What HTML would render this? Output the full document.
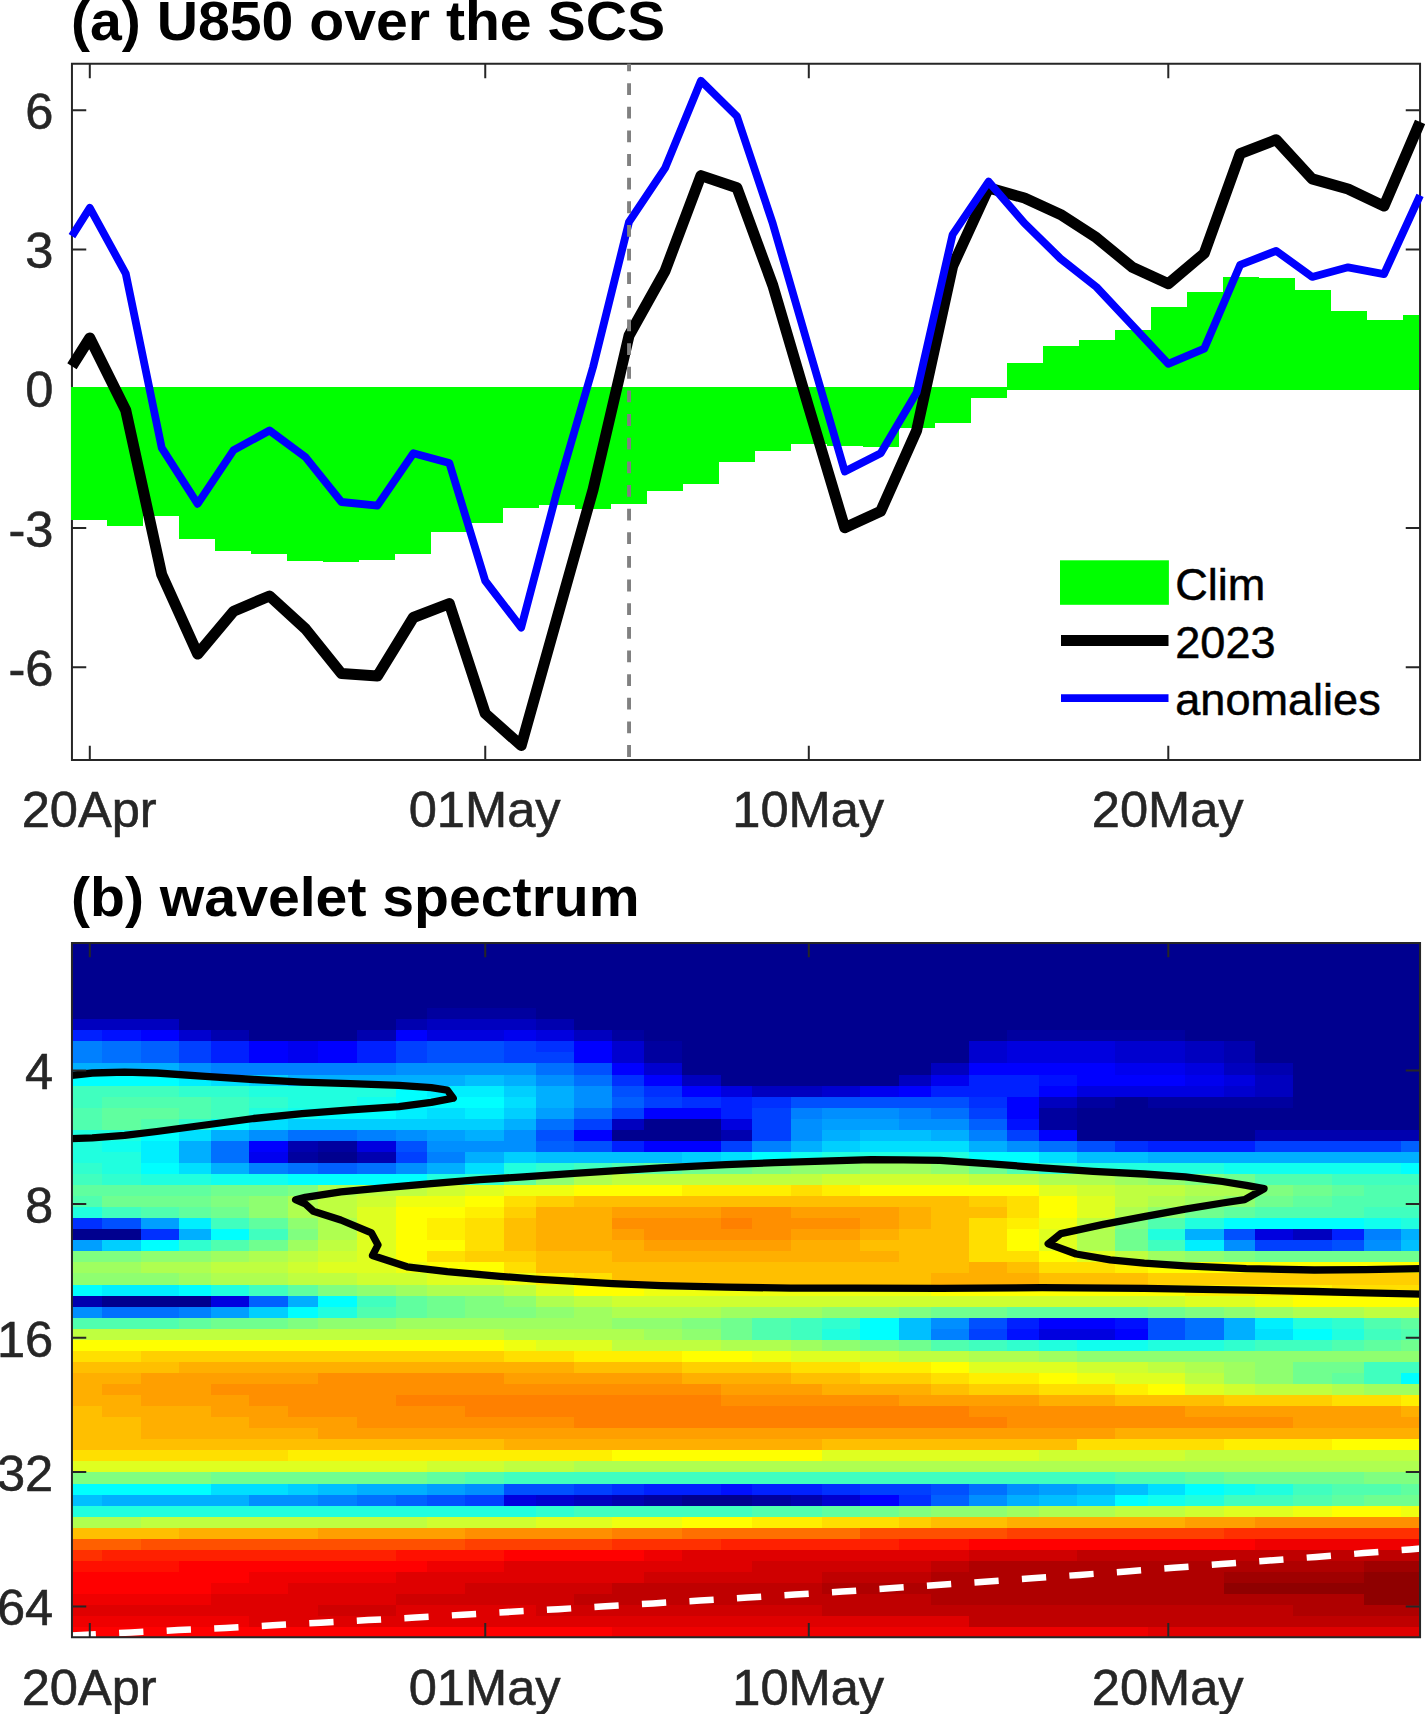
<!DOCTYPE html>
<html lang="en"><head><meta charset="utf-8"><title>U850 over the SCS and wavelet spectrum</title>
<style>html,body{margin:0;padding:0;background:#fff}svg{display:block}text{font-family:"Liberation Sans",Arial,Helvetica,sans-serif}.tk{font-size:49.15px;fill:#262626;stroke:#262626;stroke-width:.55px}.tt{font-size:56px;font-weight:bold;fill:#000}.lg{font-size:43.6px;fill:#000;stroke:#000;stroke-width:.5px}</style></head>
<body>
<svg width="1425" height="1714" viewBox="0 0 1425 1714">
<rect width="1425" height="1714" fill="#fff"/>
<defs><clipPath id="ca"><rect x="71.95" y="63.85" width="1348.1" height="696.15"/></clipPath><clipPath id="cb"><rect x="71.95" y="942.9" width="1348.1" height="694.3"/></clipPath></defs>
<text class="tt" transform="translate(71 40.4) scale(1.021 1)">(a) U850 over the SCS</text>
<path fill="none" stroke="#262626" stroke-width="2" d="M71.95 63.85H1420.05V760H71.95ZM89.8 760v-14.3M89.8 63.85v14.3M485.25 760v-14.3M485.25 63.85v14.3M808.8 760v-14.3M808.8 63.85v14.3M1168.3 760v-14.3M1168.3 63.85v14.3M71.95 110.24h14.3M1420.05 110.24h-14.3M71.95 249.47h14.3M1420.05 249.47h-14.3M71.95 388.7h14.3M1420.05 388.7h-14.3M71.95 527.93h14.3M1420.05 527.93h-14.3M71.95 667.16h14.3M1420.05 667.16h-14.3"/>
<path fill="#00ff00" shape-rendering="crispEdges" d="M70.75 387.3H106.8V519.7H70.75ZM106.5 387.3H142.8V526H106.5ZM142.5 387.3H178.8V516.4H142.5ZM178.5 387.3H214.8V539.2H178.5ZM214.5 387.3H250.8V550.5H214.5ZM250.5 387.3H286.8V554.3H250.5ZM286.5 387.3H322.8V560.9H286.5ZM322.5 387.3H358.8V561.7H322.5ZM358.5 387.3H394.8V560.1H358.5ZM394.5 387.3H430.8V554.3H394.5ZM430.5 387.3H466.8V532.1H430.5ZM466.5 387.3H502.8V522.7H466.5ZM502.5 387.3H538.8V508.3H502.5ZM538.5 387.3H574.8V505.1H538.5ZM574.5 387.3H610.8V508.9H574.5ZM610.5 387.3H646.8V504.3H610.5ZM646.5 387.3H682.8V490.7H646.5ZM682.5 387.3H718.8V483.6H682.5ZM718.5 387.3H754.8V461.7H718.5ZM754.5 387.3H790.8V451.3H754.5ZM790.5 387.3H826.8V444.2H790.5ZM826.5 387.3H862.8V445.6H826.5ZM862.5 387.3H898.8V446.9H862.5ZM898.5 387.3H934.8V428.4H898.5ZM934.5 387.3H970.8V423.4H934.5ZM970.5 387.3H1006.8V397.6H970.5ZM1006.5 362.7H1042.8V389.6H1006.5ZM1042.5 345.5H1078.8V389.6H1042.5ZM1078.5 339.9H1114.8V389.6H1078.5ZM1114.5 330H1150.8V389.6H1114.5ZM1150.5 307.2H1186.8V389.6H1150.5ZM1186.5 291.8H1222.8V389.6H1186.5ZM1222.5 277.4H1258.8V389.6H1222.5ZM1258.5 277.9H1294.8V389.6H1258.5ZM1294.5 289.5H1330.8V389.6H1294.5ZM1330.5 311H1366.8V389.6H1330.5ZM1366.5 319.8H1402.8V389.6H1366.5ZM1402.5 314.5H1419.45V389.6H1402.5Z"/>
<g fill="none" stroke-linejoin="round"><polyline stroke="#000" stroke-width="11" points="71.95,366.3 89.8,338 125.75,410.2 161.7,574.5 197.65,654.1 233.6,611.2 269.55,596 305.5,628.9 341.45,673.6 377.4,676.1 413.35,617.5 449.3,603.6 485.25,713.5 521.2,745.5 557.15,617.5 593.1,489.5 629.05,335.5 665,271.1 700.95,175.6 736.9,187.7 772.85,285.5 808.8,407.5 844.75,527.7 880.7,511.3 916.65,430.4 952.6,266.2 988.55,187.9 1024.5,198 1060.45,214.4 1096.4,237.7 1132.35,267.3 1168.3,283.7 1204.25,253.4 1240.2,153.6 1276.15,139.7 1312.1,178.9 1348.05,189 1384,206.1 1420.05,122"/><polyline stroke="#0000ff" stroke-width="7.8" points="71.95,236.1 89.8,207.9 125.75,273.6 161.7,447.8 197.65,503.8 233.6,450.2 269.55,430.5 305.5,457.1 341.45,502 377.4,505.6 413.35,453.3 449.3,462.9 485.25,580.9 521.2,627.6 557.15,491 593.1,367 629.05,221.8 665,168.2 700.95,80.8 736.9,116.2 772.85,223.8 808.8,348 844.75,471.4 880.7,453.2 916.65,392.5 952.6,234.6 988.55,181.6 1024.5,223.3 1060.45,258.6 1096.4,287 1132.35,325.4 1168.3,363.8 1204.25,348.6 1240.2,264.8 1276.15,250.9 1312.1,276.9 1348.05,267.3 1384,274.1 1420.05,195.3"/><line x1="629.05" x2="629.05" y1="63.85" y2="760" stroke="#808080" stroke-width="3.9" stroke-dasharray="11.8 11.84" stroke-dashoffset="4.33"/></g>
<text class="tk" text-anchor="end" transform="translate(53.4 128.94) scale(1.03 1)">6</text><text class="tk" text-anchor="end" transform="translate(53.4 268.17) scale(1.03 1)">3</text><text class="tk" text-anchor="end" transform="translate(53.4 407.4) scale(1.03 1)">0</text><text class="tk" text-anchor="end" transform="translate(53.4 546.63) scale(1.03 1)">-3</text><text class="tk" text-anchor="end" transform="translate(53.4 685.86) scale(1.03 1)">-6</text>
<text class="tk" text-anchor="middle" transform="translate(89.2 827.1) scale(1.03 1)">20Apr</text><text class="tk" text-anchor="middle" transform="translate(484.65 827.1) scale(1.03 1)">01May</text><text class="tk" text-anchor="middle" transform="translate(808.2 827.1) scale(1.03 1)">10May</text><text class="tk" text-anchor="middle" transform="translate(1167.7 827.1) scale(1.03 1)">20May</text>
<rect x="1060" y="560.3" width="108.9" height="44.5" fill="#00ff00"/><line x1="1061" x2="1168.5" y1="640.5" y2="640.5" stroke="#000" stroke-width="10.9"/><line x1="1061" x2="1168.5" y1="698.1" y2="698.1" stroke="#0000ff" stroke-width="7.9"/><text class="lg" transform="translate(1175.3 599.7) scale(1.034 1)">Clim</text><text class="lg" transform="translate(1175.3 657.5) scale(1.034 1)">2023</text><text class="lg" transform="translate(1175.3 715.1) scale(1.034 1)">anomalies</text>
<text class="tt" transform="translate(71 916.2) scale(1.021 1)">(b) wavelet spectrum</text>
<g shape-rendering="crispEdges">
<rect x="71.95" y="942.9" width="1348.1" height="694.3" fill="#00008f"/>
<path fill="#00009f" d="M427.3 1008.22H535.5V1019.27H427.3ZM612.3 1030.32H643.6V1041.38H612.3ZM1007.05 1030.32H1185.1V1041.38H1007.05ZM643.6 1041.38H682.4V1052.43H643.6ZM643.6 1052.43H682.4V1063.48H643.6ZM1077.2 1096.64H1115.3V1107.69H1077.2ZM1147.6 1096.64H1293.3V1107.69H1147.6ZM1038.7 1107.69H1077.2V1118.75H1038.7ZM1038.7 1118.75H1077.2V1129.8H1038.7ZM318.2 1140.85H357V1151.91H318.2ZM287.6 1151.91H318.2V1162.96H287.6ZM643.6 1494.55H682.4V1505.6H643.6ZM751.8 1494.55H790.5V1505.6H751.8Z"/>
<path fill="#0000bf" d="M71.95 1019.27H178.8V1030.32H71.95ZM427.3 1019.27H535.5V1030.32H427.3ZM574.2 1030.32H612.3V1041.38H574.2ZM1185.1 1041.38H1223.5V1052.43H1185.1ZM1185.1 1052.43H1223.5V1063.48H1185.1ZM930.9 1063.48H968.9V1074.54H930.9ZM1223.5 1063.48H1254.8V1074.54H1223.5ZM682.4 1074.54H720.5V1085.59H682.4ZM899.3 1074.54H930.9V1085.59H899.3ZM1254.8 1074.54H1293.3V1085.59H1254.8ZM751.8 1085.59H821.8V1096.64H751.8ZM1254.8 1085.59H1293.3V1096.64H1254.8ZM1038.7 1096.64H1077.2V1107.69H1038.7ZM612.3 1118.75H643.6V1129.8H612.3ZM1293.3 1229.28H1331.5V1240.33H1293.3ZM574.2 1494.55H612.3V1505.6H574.2Z"/>
<path fill="#0000af" d="M395.7 1019.27H427.3V1030.32H395.7ZM535.5 1019.27H574.2V1030.32H535.5ZM210.7 1030.32H248.8V1041.38H210.7ZM357 1030.32H395.7V1041.38H357ZM1223.5 1041.38H1254.8V1052.43H1223.5ZM1223.5 1052.43H1254.8V1063.48H1223.5ZM1254.8 1063.48H1293.3V1074.54H1254.8ZM720.5 1129.8H751.8V1140.85H720.5ZM1254.8 1129.8H1420.05V1140.85H1254.8ZM287.6 1140.85H318.2V1151.91H287.6ZM357 1151.91H395.7V1162.96H357ZM71.95 1295.6H102V1306.65H71.95ZM612.3 1494.55H643.6V1505.6H612.3ZM790.5 1494.55H821.8V1505.6H790.5Z"/>
<path fill="#0020ff" d="M71.95 1030.32H102V1041.38H71.95ZM210.7 1041.38H248.8V1052.43H210.7ZM357 1041.38H395.7V1052.43H357ZM210.7 1052.43H248.8V1063.48H210.7ZM357 1052.43H395.7V1063.48H357ZM968.9 1074.54H1038.7V1085.59H968.9ZM930.9 1085.59H1038.7V1096.64H930.9ZM720.5 1096.64H751.8V1107.69H720.5ZM720.5 1107.69H751.8V1118.75H720.5ZM612.3 1140.85H643.6V1151.91H612.3ZM1147.6 1140.85H1254.8V1151.91H1147.6ZM1331.5 1229.28H1363.8V1240.33H1331.5ZM1007.05 1317.7H1038.7V1328.76H1007.05ZM643.6 1483.5H720.5V1494.55H643.6ZM751.8 1483.5H821.8V1494.55H751.8Z"/>
<path fill="#0010ff" d="M102 1030.32H140.7V1041.38H102ZM1038.7 1074.54H1077.2V1085.59H1038.7ZM1007.05 1118.75H1038.7V1129.8H1007.05ZM1115.3 1317.7H1147.6V1328.76H1115.3ZM1007.05 1328.76H1038.7V1339.81H1007.05ZM720.5 1483.5H751.8V1494.55H720.5Z"/>
<path fill="#0000ff" d="M140.7 1030.32H178.8V1041.38H140.7ZM395.7 1030.32H427.3V1041.38H395.7ZM248.8 1041.38H287.6V1052.43H248.8ZM318.2 1041.38H357V1052.43H318.2ZM574.2 1041.38H612.3V1052.43H574.2ZM248.8 1052.43H287.6V1063.48H248.8ZM318.2 1052.43H357V1063.48H318.2ZM574.2 1052.43H612.3V1063.48H574.2ZM612.3 1063.48H643.6V1074.54H612.3ZM968.9 1063.48H1115.3V1074.54H968.9ZM643.6 1074.54H682.4V1085.59H643.6ZM1077.2 1074.54H1185.1V1085.59H1077.2ZM682.4 1085.59H720.5V1096.64H682.4ZM899.3 1085.59H930.9V1096.64H899.3ZM1038.7 1085.59H1077.2V1096.64H1038.7ZM1007.05 1096.64H1038.7V1107.69H1007.05ZM643.6 1107.69H720.5V1118.75H643.6ZM1007.05 1107.69H1038.7V1118.75H1007.05ZM574.2 1129.8H612.3V1140.85H574.2ZM1038.7 1129.8H1077.2V1140.85H1038.7ZM248.8 1140.85H287.6V1151.91H248.8ZM643.6 1140.85H720.5V1151.91H643.6ZM1038.7 1317.7H1115.3V1328.76H1038.7ZM1115.3 1328.76H1147.6V1339.81H1115.3ZM859.9 1494.55H899.3V1505.6H859.9Z"/>
<path fill="#0000cf" d="M178.8 1030.32H210.7V1041.38H178.8ZM612.3 1041.38H643.6V1052.43H612.3ZM968.9 1041.38H1007.05V1052.43H968.9ZM1115.3 1041.38H1185.1V1052.43H1115.3ZM612.3 1052.43H643.6V1063.48H612.3ZM968.9 1052.43H1007.05V1063.48H968.9ZM1115.3 1052.43H1185.1V1063.48H1115.3ZM643.6 1063.48H682.4V1074.54H643.6ZM821.8 1085.59H859.9V1096.64H821.8ZM1223.5 1085.59H1254.8V1096.64H1223.5ZM535.5 1494.55H574.2V1505.6H535.5ZM821.8 1494.55H859.9V1505.6H821.8Z"/>
<path fill="#0000df" d="M427.3 1030.32H503.8V1041.38H427.3ZM535.5 1030.32H574.2V1041.38H535.5ZM1007.05 1041.38H1115.3V1052.43H1007.05ZM1007.05 1052.43H1115.3V1063.48H1007.05ZM1185.1 1063.48H1223.5V1074.54H1185.1ZM1223.5 1074.54H1254.8V1085.59H1223.5ZM720.5 1085.59H751.8V1096.64H720.5ZM1077.2 1085.59H1223.5V1096.64H1077.2ZM720.5 1118.75H751.8V1129.8H720.5ZM357 1140.85H395.7V1151.91H357ZM1254.8 1229.28H1293.3V1240.33H1254.8ZM210.7 1295.6H248.8V1306.65H210.7ZM1038.7 1328.76H1115.3V1339.81H1038.7ZM503.8 1494.55H535.5V1505.6H503.8Z"/>
<path fill="#0000ef" d="M503.8 1030.32H535.5V1041.38H503.8ZM287.6 1041.38H318.2V1052.43H287.6ZM287.6 1052.43H318.2V1063.48H287.6ZM1115.3 1063.48H1185.1V1074.54H1115.3ZM930.9 1074.54H968.9V1085.59H930.9ZM1185.1 1074.54H1223.5V1085.59H1185.1ZM859.9 1085.59H899.3V1096.64H859.9ZM248.8 1151.91H287.6V1162.96H248.8Z"/>
<path fill="#0080ff" d="M71.95 1041.38H102V1052.43H71.95ZM71.95 1052.43H102V1063.48H71.95ZM210.7 1063.48H395.7V1074.54H210.7ZM790.5 1107.69H821.8V1118.75H790.5ZM899.3 1107.69H930.9V1118.75H899.3ZM357 1129.8H395.7V1140.85H357ZM968.9 1129.8H1007.05V1140.85H968.9ZM751.8 1140.85H790.5V1151.91H751.8ZM427.3 1151.91H465.1V1162.96H427.3ZM248.8 1162.96H287.6V1174.01H248.8ZM1363.8 1229.28H1401.2V1240.33H1363.8ZM178.8 1306.65H210.7V1317.7H178.8ZM930.9 1328.76H968.9V1339.81H930.9ZM318.2 1494.55H357V1505.6H318.2Z"/>
<path fill="#0070ff" d="M102 1041.38H140.7V1052.43H102ZM102 1052.43H140.7V1063.48H102ZM535.5 1063.48H574.2V1074.54H535.5ZM574.2 1074.54H612.3V1085.59H574.2ZM574.2 1107.69H612.3V1118.75H574.2ZM930.9 1107.69H968.9V1118.75H930.9ZM535.5 1118.75H574.2V1129.8H535.5ZM287.6 1129.8H357V1140.85H287.6ZM210.7 1140.85H248.8V1151.91H210.7ZM1038.7 1140.85H1077.2V1151.91H1038.7ZM210.7 1151.91H248.8V1162.96H210.7ZM287.6 1162.96H318.2V1174.01H287.6ZM357 1162.96H395.7V1174.01H357ZM102 1306.65H178.8V1317.7H102ZM1185.1 1317.7H1223.5V1328.76H1185.1ZM1185.1 1328.76H1223.5V1339.81H1185.1ZM968.9 1483.5H1007.05V1494.55H968.9ZM357 1494.55H395.7V1505.6H357Z"/>
<path fill="#0060ff" d="M140.7 1041.38H178.8V1052.43H140.7ZM140.7 1052.43H178.8V1063.48H140.7ZM612.3 1096.64H643.6V1107.69H612.3ZM968.9 1118.75H1007.05V1129.8H968.9ZM535.5 1140.85H574.2V1151.91H535.5ZM1401.2 1140.85H1420.05V1151.91H1401.2ZM318.2 1162.96H357V1174.01H318.2ZM248.8 1295.6H287.6V1306.65H248.8ZM395.7 1494.55H427.3V1505.6H395.7ZM930.9 1494.55H968.9V1505.6H930.9Z"/>
<path fill="#0040ff" d="M178.8 1041.38H210.7V1052.43H178.8ZM395.7 1041.38H427.3V1052.43H395.7ZM503.8 1041.38H535.5V1052.43H503.8ZM178.8 1052.43H210.7V1063.48H178.8ZM395.7 1052.43H427.3V1063.48H395.7ZM503.8 1052.43H574.2V1063.48H503.8ZM643.6 1096.64H682.4V1107.69H643.6ZM612.3 1107.69H643.6V1118.75H612.3ZM751.8 1107.69H790.5V1118.75H751.8ZM968.9 1107.69H1007.05V1118.75H968.9ZM574.2 1118.75H612.3V1129.8H574.2ZM751.8 1118.75H790.5V1129.8H751.8ZM751.8 1129.8H790.5V1140.85H751.8ZM1007.05 1129.8H1038.7V1140.85H1007.05ZM720.5 1140.85H751.8V1151.91H720.5ZM1254.8 1140.85H1401.2V1151.91H1254.8ZM395.7 1151.91H427.3V1162.96H395.7ZM1254.8 1240.33H1331.5V1251.38H1254.8ZM968.9 1328.76H1007.05V1339.81H968.9ZM574.2 1483.5H612.3V1494.55H574.2ZM859.9 1483.5H930.9V1494.55H859.9ZM465.1 1494.55H503.8V1505.6H465.1Z"/>
<path fill="#0050ff" d="M427.3 1041.38H503.8V1052.43H427.3ZM427.3 1052.43H503.8V1063.48H427.3ZM574.2 1063.48H612.3V1074.54H574.2ZM612.3 1085.59H643.6V1096.64H612.3ZM790.5 1096.64H968.9V1107.69H790.5ZM535.5 1129.8H574.2V1140.85H535.5ZM395.7 1140.85H427.3V1151.91H395.7ZM574.2 1140.85H612.3V1151.91H574.2ZM1077.2 1140.85H1115.3V1151.91H1077.2ZM102 1218.22H140.7V1229.28H102ZM1223.5 1229.28H1254.8V1240.33H1223.5ZM1331.5 1240.33H1363.8V1251.38H1331.5ZM968.9 1317.7H1007.05V1328.76H968.9ZM1147.6 1317.7H1185.1V1328.76H1147.6ZM1147.6 1328.76H1185.1V1339.81H1147.6ZM503.8 1483.5H574.2V1494.55H503.8ZM930.9 1483.5H968.9V1494.55H930.9ZM427.3 1494.55H465.1V1505.6H427.3Z"/>
<path fill="#0030ff" d="M535.5 1041.38H574.2V1052.43H535.5ZM612.3 1074.54H643.6V1085.59H612.3ZM643.6 1085.59H682.4V1096.64H643.6ZM682.4 1096.64H720.5V1107.69H682.4ZM751.8 1096.64H790.5V1107.69H751.8ZM968.9 1096.64H1007.05V1107.69H968.9ZM1115.3 1140.85H1147.6V1151.91H1115.3ZM71.95 1218.22H102V1229.28H71.95ZM140.7 1229.28H178.8V1240.33H140.7ZM612.3 1483.5H643.6V1494.55H612.3ZM821.8 1483.5H859.9V1494.55H821.8ZM899.3 1494.55H930.9V1505.6H899.3Z"/>
<path fill="#00afff" d="M71.95 1063.48H178.8V1074.54H71.95ZM287.6 1074.54H465.1V1085.59H287.6ZM503.8 1074.54H535.5V1085.59H503.8ZM535.5 1085.59H574.2V1096.64H535.5ZM535.5 1096.64H574.2V1107.69H535.5ZM503.8 1118.75H535.5V1129.8H503.8ZM210.7 1129.8H248.8V1140.85H210.7ZM465.1 1129.8H503.8V1140.85H465.1ZM821.8 1129.8H859.9V1140.85H821.8ZM930.9 1129.8H968.9V1140.85H930.9ZM178.8 1140.85H210.7V1151.91H178.8ZM790.5 1140.85H821.8V1151.91H790.5ZM968.9 1140.85H1007.05V1151.91H968.9ZM178.8 1151.91H210.7V1162.96H178.8ZM465.1 1151.91H503.8V1162.96H465.1ZM1147.6 1151.91H1420.05V1162.96H1147.6ZM210.7 1162.96H248.8V1174.01H210.7ZM427.3 1162.96H465.1V1174.01H427.3ZM178.8 1229.28H210.7V1240.33H178.8ZM1185.1 1229.28H1223.5V1240.33H1185.1ZM1401.2 1229.28H1420.05V1240.33H1401.2ZM287.6 1295.6H318.2V1306.65H287.6ZM1223.5 1317.7H1254.8V1328.76H1223.5ZM1223.5 1328.76H1254.8V1339.81H1223.5ZM357 1483.5H427.3V1494.55H357ZM1077.2 1483.5H1115.3V1494.55H1077.2ZM102 1494.55H248.8V1505.6H102ZM1007.05 1494.55H1038.7V1505.6H1007.05Z"/>
<path fill="#008fff" d="M178.8 1063.48H210.7V1074.54H178.8ZM395.7 1063.48H535.5V1074.54H395.7ZM535.5 1074.54H574.2V1085.59H535.5ZM574.2 1085.59H612.3V1096.64H574.2ZM574.2 1096.64H612.3V1107.69H574.2ZM821.8 1107.69H899.3V1118.75H821.8ZM790.5 1118.75H821.8V1129.8H790.5ZM899.3 1118.75H968.9V1129.8H899.3ZM248.8 1129.8H287.6V1140.85H248.8ZM395.7 1129.8H427.3V1140.85H395.7ZM503.8 1129.8H535.5V1140.85H503.8ZM790.5 1129.8H821.8V1140.85H790.5ZM427.3 1140.85H535.5V1151.91H427.3ZM1007.05 1140.85H1038.7V1151.91H1007.05ZM395.7 1162.96H427.3V1174.01H395.7ZM1223.5 1240.33H1254.8V1251.38H1223.5ZM1363.8 1240.33H1401.2V1251.38H1363.8ZM71.95 1306.65H102V1317.7H71.95ZM930.9 1317.7H968.9V1328.76H930.9ZM465.1 1483.5H503.8V1494.55H465.1ZM1007.05 1483.5H1038.7V1494.55H1007.05ZM248.8 1494.55H318.2V1505.6H248.8ZM968.9 1494.55H1007.05V1505.6H968.9Z"/>
<path fill="#00ffff" d="M71.95 1074.54H178.8V1085.59H71.95ZM395.7 1085.59H427.3V1096.64H395.7ZM395.7 1096.64H503.8V1107.69H395.7ZM318.2 1107.69H395.7V1118.75H318.2ZM210.7 1118.75H248.8V1129.8H210.7ZM140.7 1129.8H178.8V1140.85H140.7ZM751.8 1151.91H790.5V1162.96H751.8ZM968.9 1151.91H1038.7V1162.96H968.9ZM140.7 1162.96H178.8V1174.01H140.7ZM1401.2 1162.96H1420.05V1174.01H1401.2ZM287.6 1174.01H427.3V1185.07H287.6ZM1223.5 1218.22H1363.8V1229.28H1223.5ZM210.7 1229.28H248.8V1240.33H210.7ZM140.7 1240.33H178.8V1251.38H140.7ZM71.95 1284.54H102V1295.6H71.95ZM178.8 1284.54H210.7V1295.6H178.8ZM318.2 1295.6H357V1306.65H318.2ZM287.6 1306.65H318.2V1317.7H287.6ZM859.9 1317.7H899.3V1328.76H859.9ZM859.9 1328.76H899.3V1339.81H859.9ZM1293.3 1328.76H1331.5V1339.81H1293.3ZM1401.2 1372.97H1420.05V1384.02H1401.2ZM71.95 1483.5H210.7V1494.55H71.95ZM1185.1 1483.5H1223.5V1494.55H1185.1ZM1115.3 1494.55H1147.6V1505.6H1115.3Z"/>
<path fill="#00efff" d="M178.8 1074.54H210.7V1085.59H178.8ZM427.3 1085.59H503.8V1096.64H427.3ZM395.7 1107.69H427.3V1118.75H395.7ZM465.1 1107.69H503.8V1118.75H465.1ZM140.7 1140.85H178.8V1151.91H140.7ZM140.7 1151.91H178.8V1162.96H140.7ZM178.8 1218.22H210.7V1229.28H178.8ZM1185.1 1240.33H1223.5V1251.38H1185.1ZM102 1284.54H178.8V1295.6H102ZM1254.8 1317.7H1293.3V1328.76H1254.8Z"/>
<path fill="#00dfff" d="M210.7 1074.54H248.8V1085.59H210.7ZM503.8 1096.64H535.5V1107.69H503.8ZM427.3 1107.69H465.1V1118.75H427.3ZM248.8 1118.75H287.6V1129.8H248.8ZM178.8 1129.8H210.7V1140.85H178.8ZM859.9 1140.85H968.9V1151.91H859.9ZM720.5 1151.91H751.8V1162.96H720.5ZM1038.7 1151.91H1077.2V1162.96H1038.7ZM178.8 1162.96H210.7V1174.01H178.8ZM465.1 1162.96H503.8V1174.01H465.1ZM1254.8 1328.76H1293.3V1339.81H1254.8ZM210.7 1483.5H287.6V1494.55H210.7ZM1147.6 1483.5H1185.1V1494.55H1147.6Z"/>
<path fill="#00cfff" d="M248.8 1074.54H287.6V1085.59H248.8ZM503.8 1085.59H535.5V1096.64H503.8ZM503.8 1107.69H535.5V1118.75H503.8ZM287.6 1118.75H503.8V1129.8H287.6ZM821.8 1140.85H859.9V1151.91H821.8ZM503.8 1151.91H535.5V1162.96H503.8ZM682.4 1151.91H720.5V1162.96H682.4ZM102 1240.33H140.7V1251.38H102ZM248.8 1306.65H287.6V1317.7H248.8ZM287.6 1483.5H318.2V1494.55H287.6ZM1077.2 1494.55H1115.3V1505.6H1077.2Z"/>
<path fill="#00bfff" d="M465.1 1074.54H503.8V1085.59H465.1ZM859.9 1129.8H930.9V1140.85H859.9ZM535.5 1151.91H682.4V1162.96H535.5ZM1077.2 1151.91H1147.6V1162.96H1077.2ZM1401.2 1240.33H1420.05V1251.38H1401.2ZM899.3 1317.7H930.9V1328.76H899.3ZM899.3 1328.76H930.9V1339.81H899.3ZM318.2 1483.5H357V1494.55H318.2ZM1115.3 1483.5H1147.6V1494.55H1115.3ZM71.95 1494.55H102V1505.6H71.95ZM1038.7 1494.55H1077.2V1505.6H1038.7Z"/>
<path fill="#40ffbf" d="M71.95 1085.59H178.8V1096.64H71.95ZM71.95 1096.64H102V1107.69H71.95ZM210.7 1096.64H248.8V1107.69H210.7ZM210.7 1107.69H248.8V1118.75H210.7ZM574.2 1162.96H612.3V1174.01H574.2ZM71.95 1174.01H102V1185.07H71.95ZM1331.5 1174.01H1420.05V1185.07H1331.5ZM102 1207.17H140.7V1218.22H102ZM1363.8 1207.17H1420.05V1218.22H1363.8ZM210.7 1218.22H248.8V1229.28H210.7ZM248.8 1229.28H287.6V1240.33H248.8ZM1147.6 1240.33H1185.1V1251.38H1147.6ZM248.8 1284.54H287.6V1295.6H248.8ZM357 1295.6H395.7V1306.65H357ZM790.5 1317.7H821.8V1328.76H790.5ZM790.5 1328.76H821.8V1339.81H790.5ZM1363.8 1328.76H1401.2V1339.81H1363.8ZM968.9 1339.81H1007.05V1350.86H968.9ZM1254.8 1339.81H1331.5V1350.86H1254.8ZM1363.8 1361.91H1420.05V1372.97H1363.8ZM1363.8 1372.97H1401.2V1384.02H1363.8ZM503.8 1472.44H1115.3V1483.5H503.8ZM1293.3 1483.5H1331.5V1494.55H1293.3ZM1223.5 1494.55H1293.3V1505.6H1223.5ZM574.2 1505.6H751.8V1516.66H574.2Z"/>
<path fill="#30ffcf" d="M178.8 1085.59H248.8V1096.64H178.8ZM248.8 1096.64H287.6V1107.69H248.8ZM178.8 1118.75H210.7V1129.8H178.8ZM71.95 1162.96H102V1174.01H71.95ZM535.5 1162.96H574.2V1174.01H535.5ZM1038.7 1162.96H1077.2V1174.01H1038.7ZM102 1174.01H140.7V1185.07H102ZM465.1 1174.01H503.8V1185.07H465.1ZM178.8 1240.33H210.7V1251.38H178.8ZM821.8 1317.7H859.9V1328.76H821.8ZM1331.5 1317.7H1363.8V1328.76H1331.5ZM1007.05 1339.81H1038.7V1350.86H1007.05ZM1223.5 1339.81H1254.8V1350.86H1223.5ZM535.5 1505.6H574.2V1516.66H535.5Z"/>
<path fill="#20ffdf" d="M248.8 1085.59H395.7V1096.64H248.8ZM287.6 1096.64H357V1107.69H287.6ZM248.8 1107.69H287.6V1118.75H248.8ZM71.95 1129.8H140.7V1140.85H71.95ZM71.95 1140.85H102V1151.91H71.95ZM71.95 1151.91H140.7V1162.96H71.95ZM821.8 1151.91H968.9V1162.96H821.8ZM102 1162.96H140.7V1174.01H102ZM503.8 1162.96H535.5V1174.01H503.8ZM1077.2 1162.96H1223.5V1174.01H1077.2ZM140.7 1174.01H210.7V1185.07H140.7ZM427.3 1174.01H465.1V1185.07H427.3ZM71.95 1207.17H102V1218.22H71.95ZM1185.1 1218.22H1223.5V1229.28H1185.1ZM1401.2 1218.22H1420.05V1229.28H1401.2ZM1147.6 1229.28H1185.1V1240.33H1147.6ZM210.7 1284.54H248.8V1295.6H210.7ZM318.2 1306.65H357V1317.7H318.2ZM1293.3 1317.7H1331.5V1328.76H1293.3ZM821.8 1328.76H859.9V1339.81H821.8ZM1331.5 1328.76H1363.8V1339.81H1331.5ZM1038.7 1339.81H1077.2V1350.86H1038.7ZM1147.6 1339.81H1223.5V1350.86H1147.6ZM1254.8 1483.5H1293.3V1494.55H1254.8ZM1185.1 1494.55H1223.5V1505.6H1185.1ZM71.95 1505.6H535.5V1516.66H71.95Z"/>
<path fill="#50ffaf" d="M102 1096.64H210.7V1107.69H102ZM71.95 1107.69H102V1118.75H71.95ZM178.8 1107.69H210.7V1118.75H178.8ZM71.95 1118.75H102V1129.8H71.95ZM140.7 1118.75H178.8V1129.8H140.7ZM612.3 1162.96H643.6V1174.01H612.3ZM1007.05 1162.96H1038.7V1174.01H1007.05ZM1254.8 1174.01H1331.5V1185.07H1254.8ZM1363.8 1185.07H1420.05V1196.12H1363.8ZM71.95 1196.12H102V1207.17H71.95ZM1331.5 1196.12H1420.05V1207.17H1331.5ZM140.7 1207.17H178.8V1218.22H140.7ZM1254.8 1207.17H1363.8V1218.22H1254.8ZM1147.6 1218.22H1185.1V1229.28H1147.6ZM210.7 1240.33H248.8V1251.38H210.7ZM357 1306.65H395.7V1317.7H357ZM71.95 1317.7H178.8V1328.76H71.95ZM751.8 1317.7H790.5V1328.76H751.8ZM1363.8 1317.7H1401.2V1328.76H1363.8ZM751.8 1328.76H790.5V1339.81H751.8ZM1401.2 1328.76H1420.05V1339.81H1401.2ZM930.9 1339.81H968.9V1350.86H930.9ZM1331.5 1339.81H1363.8V1350.86H1331.5ZM465.1 1472.44H503.8V1483.5H465.1ZM1115.3 1472.44H1185.1V1483.5H1115.3ZM1331.5 1483.5H1401.2V1494.55H1331.5ZM1293.3 1494.55H1331.5V1505.6H1293.3ZM751.8 1505.6H821.8V1516.66H751.8Z"/>
<path fill="#10ffef" d="M357 1096.64H395.7V1107.69H357ZM287.6 1107.69H318.2V1118.75H287.6ZM102 1140.85H140.7V1151.91H102ZM790.5 1151.91H821.8V1162.96H790.5ZM1223.5 1162.96H1401.2V1174.01H1223.5ZM210.7 1174.01H287.6V1185.07H210.7ZM1363.8 1218.22H1401.2V1229.28H1363.8ZM1077.2 1339.81H1147.6V1350.86H1077.2ZM1223.5 1483.5H1254.8V1494.55H1223.5ZM1147.6 1494.55H1185.1V1505.6H1147.6Z"/>
<path fill="#60ff9f" d="M102 1107.69H178.8V1118.75H102ZM102 1118.75H140.7V1129.8H102ZM643.6 1162.96H682.4V1174.01H643.6ZM503.8 1174.01H535.5V1185.07H503.8ZM71.95 1185.07H210.7V1196.12H71.95ZM1331.5 1185.07H1363.8V1196.12H1331.5ZM1293.3 1196.12H1331.5V1207.17H1293.3ZM178.8 1207.17H210.7V1218.22H178.8ZM1223.5 1207.17H1254.8V1218.22H1223.5ZM248.8 1218.22H287.6V1229.28H248.8ZM287.6 1284.54H318.2V1295.6H287.6ZM395.7 1295.6H427.3V1306.65H395.7ZM395.7 1306.65H427.3V1317.7H395.7ZM1007.05 1306.65H1147.6V1317.7H1007.05ZM178.8 1317.7H210.7V1328.76H178.8ZM1401.2 1317.7H1420.05V1328.76H1401.2ZM1363.8 1339.81H1401.2V1350.86H1363.8ZM1331.5 1372.97H1363.8V1384.02H1331.5ZM427.3 1472.44H465.1V1483.5H427.3ZM1185.1 1472.44H1223.5V1483.5H1185.1ZM1401.2 1483.5H1420.05V1494.55H1401.2ZM1331.5 1494.55H1363.8V1505.6H1331.5ZM821.8 1505.6H859.9V1516.66H821.8Z"/>
<path fill="#009fff" d="M535.5 1107.69H574.2V1118.75H535.5ZM821.8 1118.75H899.3V1129.8H821.8ZM427.3 1129.8H465.1V1140.85H427.3ZM140.7 1218.22H178.8V1229.28H140.7ZM71.95 1240.33H102V1251.38H71.95ZM210.7 1306.65H248.8V1317.7H210.7ZM427.3 1483.5H465.1V1494.55H427.3ZM1038.7 1483.5H1077.2V1494.55H1038.7Z"/>
<path fill="#70ff8f" d="M682.4 1162.96H751.8V1174.01H682.4ZM968.9 1162.96H1007.05V1174.01H968.9ZM1223.5 1174.01H1254.8V1185.07H1223.5ZM210.7 1185.07H287.6V1196.12H210.7ZM1293.3 1185.07H1331.5V1196.12H1293.3ZM102 1196.12H210.7V1207.17H102ZM1254.8 1196.12H1293.3V1207.17H1254.8ZM210.7 1207.17H248.8V1218.22H210.7ZM1185.1 1207.17H1223.5V1218.22H1185.1ZM1115.3 1229.28H1147.6V1240.33H1115.3ZM248.8 1240.33H287.6V1251.38H248.8ZM1115.3 1240.33H1147.6V1251.38H1115.3ZM1254.8 1251.38H1420.05V1262.44H1254.8ZM427.3 1295.6H465.1V1306.65H427.3ZM427.3 1306.65H465.1V1317.7H427.3ZM930.9 1306.65H1007.05V1317.7H930.9ZM1147.6 1306.65H1185.1V1317.7H1147.6ZM210.7 1317.7H287.6V1328.76H210.7ZM720.5 1317.7H751.8V1328.76H720.5ZM720.5 1328.76H751.8V1339.81H720.5ZM899.3 1339.81H930.9V1350.86H899.3ZM1401.2 1339.81H1420.05V1350.86H1401.2ZM1293.3 1361.91H1363.8V1372.97H1293.3ZM1293.3 1372.97H1331.5V1384.02H1293.3ZM210.7 1472.44H427.3V1483.5H210.7ZM1223.5 1472.44H1363.8V1483.5H1223.5ZM1363.8 1494.55H1420.05V1505.6H1363.8ZM859.9 1505.6H899.3V1516.66H859.9Z"/>
<path fill="#80ff80" d="M751.8 1162.96H790.5V1174.01H751.8ZM1185.1 1174.01H1223.5V1185.07H1185.1ZM287.6 1185.07H318.2V1196.12H287.6ZM1254.8 1185.07H1293.3V1196.12H1254.8ZM210.7 1196.12H248.8V1207.17H210.7ZM1115.3 1218.22H1147.6V1229.28H1115.3ZM287.6 1229.28H318.2V1240.33H287.6ZM71.95 1251.38H140.7V1262.44H71.95ZM1223.5 1251.38H1254.8V1262.44H1223.5ZM318.2 1284.54H357V1295.6H318.2ZM465.1 1295.6H503.8V1306.65H465.1ZM465.1 1306.65H535.5V1317.7H465.1ZM899.3 1306.65H930.9V1317.7H899.3ZM1185.1 1306.65H1223.5V1317.7H1185.1ZM287.6 1317.7H318.2V1328.76H287.6ZM682.4 1317.7H720.5V1328.76H682.4ZM859.9 1339.81H899.3V1350.86H859.9ZM71.95 1472.44H210.7V1483.5H71.95ZM1363.8 1472.44H1420.05V1483.5H1363.8ZM899.3 1505.6H930.9V1516.66H899.3Z"/>
<path fill="#8fff70" d="M790.5 1162.96H859.9V1174.01H790.5ZM930.9 1162.96H968.9V1174.01H930.9ZM535.5 1174.01H574.2V1185.07H535.5ZM1147.6 1174.01H1185.1V1185.07H1147.6ZM248.8 1196.12H287.6V1207.17H248.8ZM1223.5 1196.12H1254.8V1207.17H1223.5ZM248.8 1207.17H287.6V1218.22H248.8ZM1147.6 1207.17H1185.1V1218.22H1147.6ZM287.6 1218.22H318.2V1229.28H287.6ZM140.7 1251.38H210.7V1262.44H140.7ZM1185.1 1251.38H1223.5V1262.44H1185.1ZM71.95 1273.49H178.8V1284.54H71.95ZM357 1284.54H395.7V1295.6H357ZM503.8 1295.6H535.5V1306.65H503.8ZM535.5 1306.65H574.2V1317.7H535.5ZM821.8 1306.65H899.3V1317.7H821.8ZM1223.5 1306.65H1254.8V1317.7H1223.5ZM318.2 1317.7H395.7V1328.76H318.2ZM612.3 1317.7H682.4V1328.76H612.3ZM682.4 1328.76H720.5V1339.81H682.4ZM821.8 1339.81H859.9V1350.86H821.8ZM1077.2 1350.86H1420.05V1361.91H1077.2ZM1254.8 1361.91H1293.3V1372.97H1254.8ZM1254.8 1372.97H1293.3V1384.02H1254.8ZM930.9 1505.6H1007.05V1516.66H930.9Z"/>
<path fill="#9fff60" d="M859.9 1162.96H930.9V1174.01H859.9ZM1115.3 1174.01H1147.6V1185.07H1115.3ZM1185.1 1196.12H1223.5V1207.17H1185.1ZM287.6 1240.33H318.2V1251.38H287.6ZM210.7 1251.38H248.8V1262.44H210.7ZM1147.6 1251.38H1185.1V1262.44H1147.6ZM71.95 1262.44H140.7V1273.49H71.95ZM178.8 1273.49H210.7V1284.54H178.8ZM395.7 1284.54H427.3V1295.6H395.7ZM574.2 1306.65H612.3V1317.7H574.2ZM720.5 1306.65H821.8V1317.7H720.5ZM1254.8 1306.65H1293.3V1317.7H1254.8ZM395.7 1317.7H612.3V1328.76H395.7ZM643.6 1328.76H682.4V1339.81H643.6ZM790.5 1339.81H821.8V1350.86H790.5ZM1038.7 1350.86H1077.2V1361.91H1038.7ZM1223.5 1361.91H1254.8V1372.97H1223.5ZM1223.5 1372.97H1254.8V1384.02H1223.5ZM1363.8 1384.02H1420.05V1395.07H1363.8ZM1007.05 1505.6H1038.7V1516.66H1007.05Z"/>
<path fill="#afff50" d="M574.2 1174.01H612.3V1185.07H574.2ZM1038.7 1174.01H1115.3V1185.07H1038.7ZM318.2 1185.07H357V1196.12H318.2ZM1185.1 1185.07H1254.8V1196.12H1185.1ZM287.6 1196.12H318.2V1207.17H287.6ZM1147.6 1196.12H1185.1V1207.17H1147.6ZM287.6 1207.17H318.2V1218.22H287.6ZM1115.3 1207.17H1147.6V1218.22H1115.3ZM318.2 1218.22H357V1229.28H318.2ZM318.2 1229.28H357V1240.33H318.2ZM1077.2 1229.28H1115.3V1240.33H1077.2ZM1077.2 1240.33H1115.3V1251.38H1077.2ZM248.8 1251.38H287.6V1262.44H248.8ZM140.7 1262.44H210.7V1273.49H140.7ZM210.7 1273.49H287.6V1284.54H210.7ZM427.3 1284.54H503.8V1295.6H427.3ZM535.5 1295.6H574.2V1306.65H535.5ZM612.3 1306.65H720.5V1317.7H612.3ZM1293.3 1306.65H1363.8V1317.7H1293.3ZM503.8 1328.76H643.6V1339.81H503.8ZM720.5 1339.81H790.5V1350.86H720.5ZM968.9 1350.86H1038.7V1361.91H968.9ZM1185.1 1361.91H1223.5V1372.97H1185.1ZM1331.5 1384.02H1363.8V1395.07H1331.5ZM574.2 1461.39H1420.05V1472.44H574.2ZM1038.7 1505.6H1115.3V1516.66H1038.7ZM71.95 1516.66H140.7V1527.71H71.95Z"/>
<path fill="#bfff40" d="M612.3 1174.01H821.8V1185.07H612.3ZM968.9 1174.01H1038.7V1185.07H968.9ZM357 1185.07H427.3V1196.12H357ZM1115.3 1185.07H1185.1V1196.12H1115.3ZM318.2 1196.12H357V1207.17H318.2ZM1115.3 1196.12H1147.6V1207.17H1115.3ZM318.2 1207.17H357V1218.22H318.2ZM1077.2 1218.22H1115.3V1229.28H1077.2ZM318.2 1240.33H357V1251.38H318.2ZM287.6 1251.38H318.2V1262.44H287.6ZM1115.3 1251.38H1147.6V1262.44H1115.3ZM210.7 1262.44H287.6V1273.49H210.7ZM287.6 1273.49H357V1284.54H287.6ZM503.8 1284.54H535.5V1295.6H503.8ZM574.2 1295.6H612.3V1306.65H574.2ZM1363.8 1306.65H1420.05V1317.7H1363.8ZM71.95 1328.76H503.8V1339.81H71.95ZM612.3 1339.81H720.5V1350.86H612.3ZM899.3 1350.86H968.9V1361.91H899.3ZM1147.6 1361.91H1185.1V1372.97H1147.6ZM1185.1 1372.97H1223.5V1384.02H1185.1ZM1254.8 1384.02H1331.5V1395.07H1254.8ZM1185.1 1450.34H1420.05V1461.39H1185.1ZM503.8 1461.39H574.2V1472.44H503.8ZM1115.3 1505.6H1185.1V1516.66H1115.3ZM140.7 1516.66H427.3V1527.71H140.7Z"/>
<path fill="#cfff30" d="M821.8 1174.01H968.9V1185.07H821.8ZM427.3 1185.07H465.1V1196.12H427.3ZM1077.2 1185.07H1115.3V1196.12H1077.2ZM357 1196.12H395.7V1207.17H357ZM318.2 1251.38H357V1262.44H318.2ZM287.6 1262.44H318.2V1273.49H287.6ZM357 1273.49H427.3V1284.54H357ZM612.3 1295.6H1185.1V1306.65H612.3ZM859.9 1350.86H899.3V1361.91H859.9ZM1077.2 1361.91H1147.6V1372.97H1077.2ZM1223.5 1384.02H1254.8V1395.07H1223.5ZM1038.7 1450.34H1185.1V1461.39H1038.7ZM427.3 1461.39H503.8V1472.44H427.3ZM1185.1 1505.6H1223.5V1516.66H1185.1ZM427.3 1516.66H535.5V1527.71H427.3Z"/>
<path fill="#dfff20" d="M465.1 1185.07H503.8V1196.12H465.1ZM1038.7 1185.07H1077.2V1196.12H1038.7ZM1077.2 1196.12H1115.3V1207.17H1077.2ZM357 1207.17H395.7V1218.22H357ZM1077.2 1207.17H1115.3V1218.22H1077.2ZM357 1218.22H395.7V1229.28H357ZM357 1229.28H395.7V1240.33H357ZM1038.7 1229.28H1077.2V1240.33H1038.7ZM357 1240.33H395.7V1251.38H357ZM1038.7 1240.33H1077.2V1251.38H1038.7ZM357 1251.38H395.7V1262.44H357ZM1077.2 1251.38H1115.3V1262.44H1077.2ZM318.2 1262.44H395.7V1273.49H318.2ZM427.3 1273.49H503.8V1284.54H427.3ZM535.5 1284.54H574.2V1295.6H535.5ZM1185.1 1295.6H1254.8V1306.65H1185.1ZM535.5 1339.81H612.3V1350.86H535.5ZM790.5 1350.86H859.9V1361.91H790.5ZM968.9 1361.91H1077.2V1372.97H968.9ZM1115.3 1372.97H1185.1V1384.02H1115.3ZM1185.1 1384.02H1223.5V1395.07H1185.1ZM821.8 1450.34H1038.7V1461.39H821.8ZM71.95 1461.39H427.3V1472.44H71.95ZM1223.5 1505.6H1293.3V1516.66H1223.5ZM535.5 1516.66H612.3V1527.71H535.5Z"/>
<path fill="#efff10" d="M503.8 1185.07H574.2V1196.12H503.8ZM395.7 1196.12H465.1V1207.17H395.7ZM1038.7 1218.22H1077.2V1229.28H1038.7ZM395.7 1262.44H427.3V1273.49H395.7ZM503.8 1273.49H535.5V1284.54H503.8ZM643.6 1284.54H930.9V1295.6H643.6ZM1254.8 1295.6H1293.3V1306.65H1254.8ZM503.8 1339.81H535.5V1350.86H503.8ZM751.8 1350.86H790.5V1361.91H751.8ZM1077.2 1372.97H1115.3V1384.02H1077.2ZM1293.3 1505.6H1331.5V1516.66H1293.3ZM1401.2 1505.6H1420.05V1516.66H1401.2ZM612.3 1516.66H682.4V1527.71H612.3Z"/>
<path fill="#ffff00" d="M574.2 1185.07H682.4V1196.12H574.2ZM859.9 1185.07H1038.7V1196.12H859.9ZM465.1 1196.12H503.8V1207.17H465.1ZM1038.7 1196.12H1077.2V1207.17H1038.7ZM395.7 1207.17H465.1V1218.22H395.7ZM1038.7 1207.17H1077.2V1218.22H1038.7ZM395.7 1218.22H427.3V1229.28H395.7ZM395.7 1229.28H427.3V1240.33H395.7ZM1007.05 1229.28H1038.7V1240.33H1007.05ZM395.7 1240.33H465.1V1251.38H395.7ZM1007.05 1240.33H1038.7V1251.38H1007.05ZM395.7 1251.38H427.3V1262.44H395.7ZM1038.7 1251.38H1077.2V1262.44H1038.7ZM427.3 1262.44H503.8V1273.49H427.3ZM1147.6 1262.44H1420.05V1273.49H1147.6ZM574.2 1284.54H643.6V1295.6H574.2ZM930.9 1284.54H1185.1V1295.6H930.9ZM1293.3 1295.6H1420.05V1306.65H1293.3ZM71.95 1339.81H503.8V1350.86H71.95ZM682.4 1350.86H751.8V1361.91H682.4ZM930.9 1361.91H968.9V1372.97H930.9ZM1038.7 1372.97H1077.2V1384.02H1038.7ZM1147.6 1384.02H1185.1V1395.07H1147.6ZM1331.5 1439.29H1420.05V1450.34H1331.5ZM612.3 1450.34H821.8V1461.39H612.3ZM1331.5 1505.6H1401.2V1516.66H1331.5ZM682.4 1516.66H751.8V1527.71H682.4Z"/>
<path fill="#ffef00" d="M682.4 1185.07H790.5V1196.12H682.4ZM821.8 1185.07H859.9V1196.12H821.8ZM465.1 1207.17H503.8V1218.22H465.1ZM427.3 1218.22H465.1V1229.28H427.3ZM1007.05 1218.22H1038.7V1229.28H1007.05ZM427.3 1229.28H465.1V1240.33H427.3ZM1115.3 1262.44H1147.6V1273.49H1115.3ZM535.5 1273.49H574.2V1284.54H535.5ZM1185.1 1284.54H1331.5V1295.6H1185.1ZM574.2 1350.86H682.4V1361.91H574.2ZM859.9 1361.91H930.9V1372.97H859.9ZM968.9 1372.97H1038.7V1384.02H968.9ZM1115.3 1384.02H1147.6V1395.07H1115.3ZM1401.2 1395.07H1420.05V1406.13H1401.2ZM1223.5 1439.29H1331.5V1450.34H1223.5ZM287.6 1450.34H612.3V1461.39H287.6ZM751.8 1516.66H821.8V1527.71H751.8Z"/>
<path fill="#ffdf00" d="M790.5 1185.07H821.8V1196.12H790.5ZM503.8 1196.12H535.5V1207.17H503.8ZM1007.05 1196.12H1038.7V1207.17H1007.05ZM1007.05 1207.17H1038.7V1218.22H1007.05ZM465.1 1218.22H503.8V1229.28H465.1ZM968.9 1218.22H1007.05V1229.28H968.9ZM465.1 1229.28H503.8V1240.33H465.1ZM968.9 1229.28H1007.05V1240.33H968.9ZM465.1 1240.33H503.8V1251.38H465.1ZM968.9 1240.33H1007.05V1251.38H968.9ZM427.3 1251.38H465.1V1262.44H427.3ZM968.9 1251.38H1038.7V1262.44H968.9ZM503.8 1262.44H535.5V1273.49H503.8ZM1038.7 1262.44H1115.3V1273.49H1038.7ZM574.2 1273.49H612.3V1284.54H574.2ZM1331.5 1284.54H1420.05V1295.6H1331.5ZM71.95 1350.86H140.7V1361.91H71.95ZM503.8 1350.86H574.2V1361.91H503.8ZM790.5 1361.91H859.9V1372.97H790.5ZM930.9 1372.97H968.9V1384.02H930.9ZM1038.7 1384.02H1115.3V1395.07H1038.7ZM1331.5 1395.07H1401.2V1406.13H1331.5ZM1077.2 1439.29H1223.5V1450.34H1077.2ZM71.95 1450.34H287.6V1461.39H71.95ZM821.8 1516.66H899.3V1527.71H821.8Z"/>
<path fill="#ffcf00" d="M535.5 1196.12H574.2V1207.17H535.5ZM968.9 1196.12H1007.05V1207.17H968.9ZM503.8 1207.17H535.5V1218.22H503.8ZM465.1 1251.38H535.5V1262.44H465.1ZM1147.6 1273.49H1420.05V1284.54H1147.6ZM140.7 1350.86H503.8V1361.91H140.7ZM682.4 1361.91H790.5V1372.97H682.4ZM859.9 1372.97H930.9V1384.02H859.9ZM968.9 1384.02H1038.7V1395.07H968.9ZM1223.5 1395.07H1331.5V1406.13H1223.5ZM899.3 1516.66H930.9V1527.71H899.3Z"/>
<path fill="#ffbf00" d="M574.2 1196.12H968.9V1207.17H574.2ZM930.9 1207.17H1007.05V1218.22H930.9ZM503.8 1218.22H535.5V1229.28H503.8ZM930.9 1218.22H968.9V1229.28H930.9ZM503.8 1229.28H535.5V1240.33H503.8ZM899.3 1229.28H968.9V1240.33H899.3ZM503.8 1240.33H535.5V1251.38H503.8ZM859.9 1240.33H968.9V1251.38H859.9ZM535.5 1251.38H612.3V1262.44H535.5ZM899.3 1251.38H968.9V1262.44H899.3ZM535.5 1262.44H968.9V1273.49H535.5ZM1007.05 1262.44H1038.7V1273.49H1007.05ZM612.3 1273.49H930.9V1284.54H612.3ZM1038.7 1273.49H1147.6V1284.54H1038.7ZM71.95 1361.91H178.8V1372.97H71.95ZM574.2 1361.91H682.4V1372.97H574.2ZM790.5 1372.97H859.9V1384.02H790.5ZM930.9 1384.02H968.9V1395.07H930.9ZM1115.3 1395.07H1223.5V1406.13H1115.3ZM71.95 1406.13H102V1417.18H71.95ZM71.95 1417.18H140.7V1428.23H71.95ZM71.95 1428.23H140.7V1439.29H71.95ZM71.95 1439.29H503.8V1450.34H71.95ZM821.8 1439.29H1077.2V1450.34H821.8ZM930.9 1516.66H1007.05V1527.71H930.9ZM71.95 1527.71H178.8V1538.76H71.95Z"/>
<path fill="#ffaf00" d="M535.5 1207.17H612.3V1218.22H535.5ZM899.3 1207.17H930.9V1218.22H899.3ZM535.5 1218.22H612.3V1229.28H535.5ZM899.3 1218.22H930.9V1229.28H899.3ZM535.5 1229.28H612.3V1240.33H535.5ZM859.9 1229.28H899.3V1240.33H859.9ZM535.5 1240.33H643.6V1251.38H535.5ZM790.5 1240.33H859.9V1251.38H790.5ZM612.3 1251.38H899.3V1262.44H612.3ZM968.9 1262.44H1007.05V1273.49H968.9ZM930.9 1273.49H1038.7V1284.54H930.9ZM178.8 1361.91H574.2V1372.97H178.8ZM71.95 1372.97H140.7V1384.02H71.95ZM682.4 1372.97H790.5V1384.02H682.4ZM71.95 1384.02H102V1395.07H71.95ZM821.8 1384.02H930.9V1395.07H821.8ZM71.95 1395.07H140.7V1406.13H71.95ZM1038.7 1395.07H1115.3V1406.13H1038.7ZM102 1406.13H210.7V1417.18H102ZM1401.2 1406.13H1420.05V1417.18H1401.2ZM140.7 1417.18H248.8V1428.23H140.7ZM140.7 1428.23H318.2V1439.29H140.7ZM1115.3 1428.23H1420.05V1439.29H1115.3ZM503.8 1439.29H821.8V1450.34H503.8ZM1007.05 1516.66H1185.1V1527.71H1007.05ZM178.8 1527.71H318.2V1538.76H178.8Z"/>
<path fill="#ff9f00" d="M612.3 1207.17H720.5V1218.22H612.3ZM790.5 1207.17H899.3V1218.22H790.5ZM859.9 1218.22H899.3V1229.28H859.9ZM612.3 1229.28H643.6V1240.33H612.3ZM790.5 1229.28H859.9V1240.33H790.5ZM643.6 1240.33H790.5V1251.38H643.6ZM140.7 1372.97H318.2V1384.02H140.7ZM503.8 1372.97H682.4V1384.02H503.8ZM102 1384.02H210.7V1395.07H102ZM720.5 1384.02H821.8V1395.07H720.5ZM140.7 1395.07H248.8V1406.13H140.7ZM899.3 1395.07H1038.7V1406.13H899.3ZM210.7 1406.13H287.6V1417.18H210.7ZM1185.1 1406.13H1401.2V1417.18H1185.1ZM248.8 1417.18H357V1428.23H248.8ZM1293.3 1417.18H1420.05V1428.23H1293.3ZM318.2 1428.23H1115.3V1439.29H318.2ZM1185.1 1516.66H1254.8V1527.71H1185.1ZM318.2 1527.71H465.1V1538.76H318.2Z"/>
<path fill="#ff8f00" d="M720.5 1207.17H790.5V1218.22H720.5ZM612.3 1218.22H720.5V1229.28H612.3ZM751.8 1218.22H859.9V1229.28H751.8ZM643.6 1229.28H790.5V1240.33H643.6ZM318.2 1372.97H503.8V1384.02H318.2ZM210.7 1384.02H720.5V1395.07H210.7ZM248.8 1395.07H395.7V1406.13H248.8ZM720.5 1395.07H899.3V1406.13H720.5ZM287.6 1406.13H465.1V1417.18H287.6ZM968.9 1406.13H1185.1V1417.18H968.9ZM357 1417.18H574.2V1428.23H357ZM1007.05 1417.18H1293.3V1428.23H1007.05ZM1254.8 1516.66H1420.05V1527.71H1254.8ZM465.1 1527.71H612.3V1538.76H465.1Z"/>
<path fill="#ff8000" d="M720.5 1218.22H751.8V1229.28H720.5ZM395.7 1395.07H720.5V1406.13H395.7ZM465.1 1406.13H968.9V1417.18H465.1ZM574.2 1417.18H1007.05V1428.23H574.2ZM612.3 1527.71H682.4V1538.76H612.3Z"/>
<path fill="#ff7000" d="M682.4 1527.71H859.9V1538.76H682.4Z"/>
<path fill="#ff5000" d="M859.9 1527.71H1007.05V1538.76H859.9ZM140.7 1538.76H465.1V1549.82H140.7Z"/>
<path fill="#ff4000" d="M1007.05 1527.71H1223.5V1538.76H1007.05ZM465.1 1538.76H612.3V1549.82H465.1Z"/>
<path fill="#ff3000" d="M1223.5 1527.71H1420.05V1538.76H1223.5ZM612.3 1538.76H720.5V1549.82H612.3ZM71.95 1549.82H102V1560.87H71.95Z"/>
<path fill="#ff6000" d="M71.95 1538.76H140.7V1549.82H71.95Z"/>
<path fill="#ff2000" d="M720.5 1538.76H899.3V1549.82H720.5ZM102 1549.82H395.7V1560.87H102Z"/>
<path fill="#ff1000" d="M899.3 1538.76H968.9V1549.82H899.3ZM395.7 1549.82H503.8V1560.87H395.7ZM71.95 1560.87H178.8V1571.92H71.95Z"/>
<path fill="#ff0000" d="M968.9 1538.76H1254.8V1549.82H968.9ZM503.8 1549.82H643.6V1560.87H503.8ZM178.8 1560.87H427.3V1571.92H178.8ZM71.95 1571.92H248.8V1582.97H71.95ZM71.95 1582.97H210.7V1594.03H71.95ZM71.95 1627.19H612.3V1638.24H71.95Z"/>
<path fill="#ef0000" d="M1254.8 1538.76H1420.05V1549.82H1254.8ZM643.6 1549.82H682.4V1560.87H643.6ZM427.3 1560.87H503.8V1571.92H427.3ZM248.8 1571.92H395.7V1582.97H248.8ZM210.7 1582.97H287.6V1594.03H210.7ZM71.95 1594.03H210.7V1605.08H71.95ZM71.95 1616.13H248.8V1627.19H71.95ZM612.3 1627.19H1147.6V1638.24H612.3Z"/>
<path fill="#df0000" d="M682.4 1549.82H968.9V1560.87H682.4ZM503.8 1560.87H751.8V1571.92H503.8ZM395.7 1571.92H643.6V1582.97H395.7ZM287.6 1582.97H465.1V1594.03H287.6ZM210.7 1594.03H395.7V1605.08H210.7ZM71.95 1605.08H318.2V1616.13H71.95ZM395.7 1605.08H535.5V1616.13H395.7ZM248.8 1616.13H968.9V1627.19H248.8ZM1147.6 1627.19H1420.05V1638.24H1147.6Z"/>
<path fill="#cf0000" d="M968.9 1549.82H1077.2V1560.87H968.9ZM751.8 1560.87H930.9V1571.92H751.8ZM643.6 1571.92H821.8V1582.97H643.6ZM465.1 1582.97H612.3V1594.03H465.1ZM395.7 1594.03H574.2V1605.08H395.7ZM318.2 1605.08H395.7V1616.13H318.2ZM535.5 1605.08H821.8V1616.13H535.5Z"/>
<path fill="#bf0000" d="M1077.2 1549.82H1420.05V1560.87H1077.2ZM930.9 1560.87H968.9V1571.92H930.9ZM821.8 1571.92H930.9V1582.97H821.8ZM612.3 1582.97H821.8V1594.03H612.3ZM574.2 1594.03H930.9V1605.08H574.2ZM821.8 1605.08H1293.3V1616.13H821.8ZM968.9 1616.13H1420.05V1627.19H968.9Z"/>
<path fill="#af0000" d="M968.9 1560.87H1363.8V1571.92H968.9ZM930.9 1571.92H1223.5V1582.97H930.9ZM821.8 1582.97H1223.5V1594.03H821.8ZM930.9 1594.03H1363.8V1605.08H930.9ZM1293.3 1605.08H1420.05V1616.13H1293.3Z"/>
<path fill="#9f0000" d="M1363.8 1560.87H1420.05V1571.92H1363.8ZM1223.5 1571.92H1363.8V1582.97H1223.5Z"/>
<path fill="#8f0000" d="M1363.8 1571.92H1420.05V1582.97H1363.8ZM1223.5 1582.97H1420.05V1594.03H1223.5ZM1363.8 1594.03H1420.05V1605.08H1363.8Z"/>
</g>
<g clip-path="url(#cb)" fill="none" stroke="#000" stroke-width="7.3" stroke-linejoin="round"><polyline points="66,1075.8 71.6,1075.3 92.3,1073 124.6,1072.1 156.8,1073 205.3,1076.3 253.7,1079.5 302.1,1082.1 350.5,1083.7 398.9,1085.3 431.2,1087.6 447.3,1090.1 453.2,1098.2 431.2,1102.4 398.9,1106.6 350.5,1109.8 302.1,1113.7 253.7,1118.5 205.3,1125 156.8,1131.5 124.6,1135.3 92.3,1137.9 71.6,1138.6 66,1138.6"/><polyline points="1425,1294.3 1365.5,1292.8 1314.4,1291.5 1246.3,1290.1 1144.2,1288.4 1042.1,1287.7 940,1288.3 855,1288.1 790.5,1288.1 726,1287.2 661.4,1285.6 613,1283.6 574.2,1281.4 535.5,1279.1 500,1276.3 447.3,1271.7 407,1266.8 372.5,1255.5 378,1244.9 371.5,1232.9 340.8,1220 313.4,1211.3 305.3,1203.9 295.6,1199.7 305.3,1197.4 340.8,1191.9 382.8,1187.8 431.2,1183.6 479.6,1179.7 520,1177.1 574.2,1173.3 613,1170.8 661.4,1167.8 726,1164.6 774.4,1162.7 822.8,1161.1 871.2,1159.7 903.5,1159.8 940,1160.4 991.1,1163.8 1042.1,1167.9 1093.2,1171.3 1144.2,1174 1185.1,1176.8 1222.5,1181.5 1246.3,1185.3 1264,1188.7 1244.6,1199.6 1222.5,1203 1185.1,1209.1 1144.2,1216.6 1103.4,1224.4 1060.8,1233.6 1048.2,1243.8 1076.1,1254 1110.2,1259.8 1144.2,1263.2 1185.1,1265.9 1246.3,1268.7 1314.4,1270 1365.5,1269.7 1425,1268.6"/></g>
<polyline clip-path="url(#cb)" fill="none" stroke="#fff" stroke-width="6.5" stroke-dasharray="24.3 23.3" points="71.6,1635.6 131,1632.4 178.3,1630.1 225.8,1627.9 273,1625.3 320.6,1622.7 368.1,1620.1 415.5,1617.6 463,1614.7 511.3,1611.8 558.1,1609.2 605.6,1606.2 653,1603.4 700.1,1600.6 747.6,1597.6 795,1594.6 842.5,1591.6 889.6,1588.3 937.4,1585 984.6,1581.7 1031.9,1578.3 1079.5,1574.9 1126.5,1571.5 1173.8,1567.8 1221.5,1564.1 1269.1,1560.5 1316.1,1556.9 1363.8,1553.1 1409.7,1549.4 1420.5,1548.5"/>
<path fill="none" stroke="#262626" stroke-width="2" d="M71.95 942.9H1420.05V1637.2H71.95ZM89.8 1637.2v-14.3M89.8 942.9v14.3M485.25 1637.2v-14.3M485.25 942.9v14.3M808.8 1637.2v-14.3M808.8 942.9v14.3M1168.3 1637.2v-14.3M1168.3 942.9v14.3M71.95 1070.4h14.3M1420.05 1070.4h-14.3M71.95 1204.1h14.3M1420.05 1204.1h-14.3M71.95 1337.8h14.3M1420.05 1337.8h-14.3M71.95 1472.1h14.3M1420.05 1472.1h-14.3M71.95 1606.5h14.3M1420.05 1606.5h-14.3"/>
<text class="tk" text-anchor="end" transform="translate(53.2 1089.1) scale(1.03 1)">4</text><text class="tk" text-anchor="end" transform="translate(53.2 1222.8) scale(1.03 1)">8</text><text class="tk" text-anchor="end" transform="translate(53.2 1356.5) scale(1.03 1)">16</text><text class="tk" text-anchor="end" transform="translate(53.2 1490.8) scale(1.03 1)">32</text><text class="tk" text-anchor="end" transform="translate(53.2 1625.2) scale(1.03 1)">64</text>
<text class="tk" text-anchor="middle" transform="translate(89.2 1704.9) scale(1.03 1)">20Apr</text><text class="tk" text-anchor="middle" transform="translate(484.65 1704.9) scale(1.03 1)">01May</text><text class="tk" text-anchor="middle" transform="translate(808.2 1704.9) scale(1.03 1)">10May</text><text class="tk" text-anchor="middle" transform="translate(1167.7 1704.9) scale(1.03 1)">20May</text>
</svg>
</body></html>
